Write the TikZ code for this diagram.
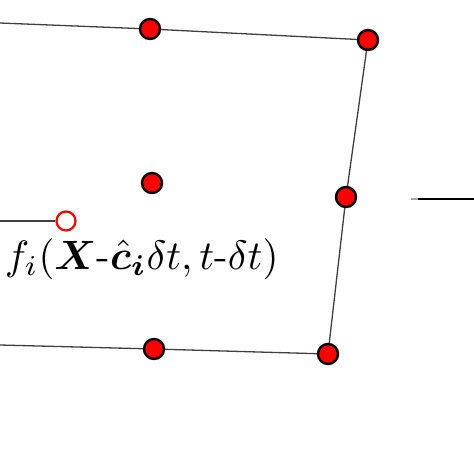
\documentclass[tikz,border=0pt]{standalone}
\usepackage{amsmath}
\usepackage{bm}
\begin{document}
\begin{tikzpicture}[x=1pt,y=-1pt,
  edge/.style={draw=black!75,line width=1.3pt},
  dot/.style={circle,fill=red,draw=black,line width=2.4pt,minimum size=20pt,inner sep=0pt},
  odot/.style={circle,fill=white,draw=red,line width=2.2pt,minimum size=19pt,inner sep=0pt}]
\useasboundingbox (0,0) rectangle (474,474);
\coordinate (tl) at (0,23);
\coordinate (bl) at (0,345);
\coordinate (ml) at (0,221);
\node[dot] (tm) at (150,29) {};
\node[dot] (tr) at (368,40) {};
\node[dot] (rm) at (346,197) {};
\node[dot] (br) at (328,354) {};
\node[dot] (bm) at (154,349) {};
\node[dot] (c) at (152,183) {};
\node[odot] (o) at (66,221) {};
\draw[edge] (tl) -- (tm) -- (tr) -- (rm) -- (br) -- (bm) -- (bl);
\draw[edge] (ml) -- (o);
\coordinate (g1) at (411,199);
\coordinate (g2) at (418,199);
\coordinate (g3) at (474,199);
\draw[black!35,line width=2pt] (g1) -- (g2);
\draw[black,line width=2.2pt] (g2) -- (g3);
\node[anchor=base west,inner sep=0pt,scale=4.1] (t) at (4,269)
  {$f_{i}(\bm{X}\text{-}\hat{\bm{c}}_{\bm{i}}\delta t,t\text{-}\delta t)$};
\end{tikzpicture}
\end{document}
